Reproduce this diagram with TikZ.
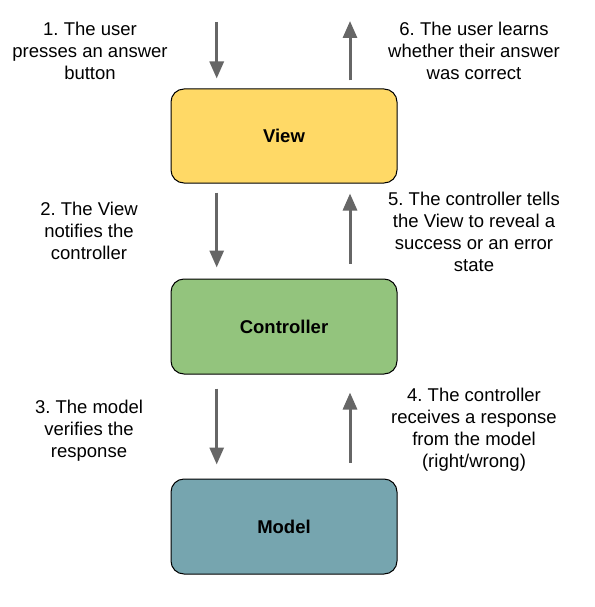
\documentclass[tikz,border=0pt]{standalone}
\usepackage{fontspec}
\setmainfont{Liberation Sans}
\frenchspacing
\usetikzlibrary{arrows.meta}
\definecolor{viewc}{HTML}{FFD966}
\definecolor{ctrlc}{HTML}{93C47D}
\definecolor{modelc}{HTML}{76A5AF}
\definecolor{arrc}{HTML}{666666}
\tikzset{
  box/.style={draw=black, line width=1pt, rounded corners=13pt,
    minimum width=226pt, minimum height=94pt, inner sep=0pt,
    font=\fontsize{18.5}{22}\selectfont\bfseries},
  lbl/.style={align=center, anchor=base, inner sep=0pt,
    font=\fontsize{18.5}{22}\selectfont},
  arr/.style={draw=arrc, line width=3pt, -{Triangle[width=14pt,length=17pt]}}
}
\begin{document}
\begin{tikzpicture}[x=1pt,y=-1pt]
\useasboundingbox (0,0) rectangle (594,607);
\node[box, fill=viewc] (view) at (284,136) {View};
\node[box, fill=ctrlc, minimum height=95pt] (ctrl) at (284,326.5) {Controller};
\node[box, fill=modelc, minimum height=95pt] (model) at (284,526.5) {Model};
\coordinate (xl) at (216.7,0);
\coordinate (xr) at (350,0);
\coordinate (in) at (216.7,22);
\coordinate (out) at (350,21);
% arrows
\draw[arr, shorten >=10pt] (in) -- (view.north -| xl);
\draw[arr, shorten <=8pt] (view.north -| xr) -- (out);
\draw[arr, shorten <=9pt, shorten >=11pt] (view.south -| xl) -- (ctrl.north -| xl);
\draw[arr, shorten <=15pt, shorten >=10pt] (ctrl.north -| xr) -- (view.south -| xr);
\draw[arr, shorten <=14pt, shorten >=14pt] (ctrl.south -| xl) -- (model.north -| xl);
\draw[arr, shorten <=16pt, shorten >=18pt] (model.north -| xr) -- (ctrl.south -| xr);
% labels (anchor base = baseline of last line)
\node[lbl] (t1) at (90,80) {1. The user\\presses an answer\\button};
\node[lbl] (t6) at (474,80) {6. The user learns\\whether their answer\\was correct};
\node[lbl] (t2) at (89,259) {2. The View\\notifies the\\controller};
\node[lbl] (t5) at (474,271) {5. The controller tells\\the View to reveal a\\success or an error\\state};
\node[lbl] (t3) at (89,457) {3. The model\\verifies the\\response};
\node[lbl] (t4) at (474,467) {4. The controller\\receives a response\\from the model\\(right/wrong)};
\end{tikzpicture}
\end{document}
